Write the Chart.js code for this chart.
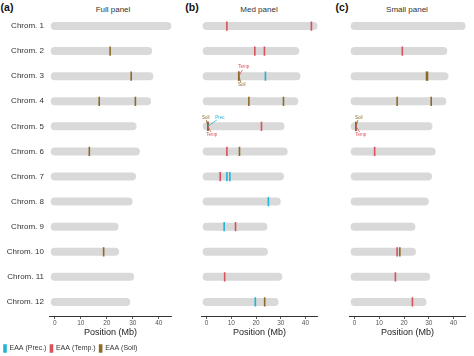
<!DOCTYPE html>
<html><head><meta charset="utf-8">
<script src="https://cdn.jsdelivr.net/npm/chart.js@4.4.1/dist/chart.umd.min.js"></script>
<style>
html,body{margin:0;padding:0;background:#fff;width:474px;height:356px;overflow:hidden;font-family:"Liberation Sans",Arial,sans-serif;}
canvas{position:absolute;top:0;}
.lab{position:absolute;transform:translate(-50%,-50%);white-space:nowrap;line-height:1;}
.tag{font-weight:bold;font-size:10.5px;color:#111;}
.ttl{font-size:8px;color:#333;}
</style></head><body>
<div class="lab tag" style="left:7px;top:7px">(a)</div>
<div class="lab ttl" style="left:113px;top:10px">Full panel</div>
<div class="lab tag" style="left:192px;top:7px">(b)</div>
<div class="lab ttl" style="left:259px;top:10px">Med panel</div>
<div class="lab tag" style="left:342px;top:7px">(c)</div>
<div class="lab ttl" style="left:407px;top:10px">Small panel</div>
<canvas id="cA" width="178" height="362" style="left:0px"></canvas>
<canvas id="cB" width="129" height="362" style="left:195px"></canvas>
<canvas id="cC" width="129" height="362" style="left:343px"></canvas>
<script>
// ---------- data ----------
const chromosomes = ['Chrom. 1','Chrom. 2','Chrom. 3','Chrom. 4','Chrom. 5','Chrom. 6','Chrom. 7','Chrom. 8','Chrom. 9','Chrom. 10','Chrom. 11','Chrom. 12'];
const chromLengthsMb = [43.3, 35.9, 36.4, 35.5, 29.9, 31.2, 29.7, 28.4, 23.0, 23.2, 29.0, 27.5];
const xTickValues = [0, 10, 20, 30, 40];
const eaaTypes = ['prec', 'temp', 'soil'];
const eaaLabels = ['EAA (Prec.)', 'EAA (Temp.)', 'EAA (Soil)'];
const siteLabelNames = {prec: 'Prec', temp: 'Temp', soil: 'Soil'};

// EAA marks: [chromosome number, position (Mb)]
const fullPrec = [];
const fullTemp = [];
const fullSoil = [[2,21.3],[3,29.4],[4,17.1],[4,31.0],[6,13.3],[10,18.8]];
const medPrec = [[3,23.8],[5,0.5],[7,8.2],[7,9.4],[8,25.0],[9,7.1],[12,19.7]];
const medTemp = [[1,8.2],[1,42.4],[2,19.5],[2,23.4],[3,13.0],[5,0.5],[5,22.2],[6,8.2],[7,5.5],[9,11.7],[11,7.3]];
const medSoil = [[3,13.0],[4,17.1],[4,31.1],[5,0.5],[6,13.3],[12,23.5]];
const smallPrec = [];
const smallTemp = [[2,19.3],[5,0.5],[6,8.1],[10,17.2],[11,16.5],[12,23.4]];
const smallSoil = [[3,29.1],[3,29.5],[4,17.2],[4,31.0],[5,0.5],[10,18.3]];

// labelled sites: [chromosome number, position (Mb), EAA types]
const medLabelledSites = [[3,13.0,['temp','soil']],[5,0.5,['soil','prec','temp']]];
const smallLabelledSites = [[5,0.5,['soil','temp']]];

// ---------- style ----------
const C = {prec: '#22b4d8', temp: '#d9515c', soil: '#8c6b2a', bar: '#d9d9d9', axis: '#333333'};
const FONT = '"Liberation Sans", Arial, sans-serif';
Chart.defaults.font.family = FONT;
const medLabelOffsets = [{temp:[5,-9], soil:[3,9]}, {soil:[-2,-9], prec:[12,-9], temp:[4,8]}];
const smallLabelOffsets = [{soil:[3,-9], temp:[5,8]}];

const siteLabelPlugin = {
  id: 'siteLabels',
  afterDatasetsDraw(chart, args, o) {
    const sites = o.sites || [];
    const ctx = chart.ctx, xs = chart.scales.x, ys = chart.scales.y;
    sites.forEach((site, si) => {
      const [chrom, pos, types] = site;
      const px = xs.getPixelForValue(pos), py = ys.getPixelForValue(chrom);
      types.forEach(t => {
        const [dx, dy] = o.offsets[si][t];
        const s = dy < 0 ? -1 : 1;
        ctx.save();
        ctx.strokeStyle = C[t]; ctx.lineWidth = 0.8;
        ctx.beginPath(); ctx.moveTo(px, py); ctx.lineTo(px + dx * 0.75, py + dy - s * 2.6); ctx.stroke();
        ctx.fillStyle = C[t]; ctx.font = '4.5px ' + FONT;
        ctx.textAlign = 'center'; ctx.textBaseline = 'middle';
        ctx.fillText(siteLabelNames[t], px + dx, py + dy);
        ctx.restore();
      });
    });
  }
};

function toPoints(list) { return list.map(([c, p]) => ({x: p, y: c})); }
function barPoints() {
  const pts = [];
  chromLengthsMb.forEach((len, i) => { pts.push({x: 0, y: i + 1}, {x: len, y: i + 1}, {x: len, y: null}); });
  return pts;
}

function makePanel(id, marks, sites, offsets, showY, showLegend) {
  const datasets = [{
    type: 'line', label: 'chromosome', data: barPoints(), isLegend: false, order: 10,
    borderColor: C.bar, backgroundColor: C.bar, borderWidth: 8, borderCapStyle: 'round',
    pointRadius: 0, pointHoverRadius: 0, tension: 0, spanGaps: false, fill: false
  }];
  eaaTypes.forEach((t, i) => {
    datasets.push({
      label: eaaLabels[i], data: toPoints(marks[i]), isLegend: true, order: 3 - i,
      backgroundColor: C[t], borderColor: C[t], borderWidth: 0,
      pointStyle: 'line', pointRotation: 90, pointRadius: 4.6, pointHoverRadius: 4.6,
      pointBorderWidth: 1.6, pointBorderColor: C[t], pointBackgroundColor: C[t]
    });
  });
  new Chart(document.getElementById(id), {
    type: 'scatter',
    data: {datasets},
    options: {
      responsive: false, animation: false, events: [],
      layout: {padding: {top: 13.5, right: 1, left: 0, bottom: showLegend ? 0 : 21}},
      plugins: {
        legend: {
          display: showLegend, position: 'bottom', align: 'start',
          labels: {boxWidth: 2, boxHeight: 7, padding: 4, font: {size: 7}, color: '#333',
                   filter: (item, data) => data.datasets[item.datasetIndex].isLegend,
                   sort: (a, b) => a.datasetIndex - b.datasetIndex}
        },
        tooltip: {enabled: false},
        siteLabels: {sites: sites, offsets: offsets}
      },
      scales: {
        x: {
          type: 'linear', min: -2.2, max: 45,
          afterBuildTicks: s => { s.ticks = xTickValues.map(v => ({value: v})); },
          afterFit: s => { s.height = 25; },
          ticks: {font: {size: 6.5}, color: '#555', padding: 0, maxRotation: 0, autoSkip: false},
          grid: {display: true, drawOnChartArea: false, drawTicks: true, tickLength: 3, color: C.axis, lineWidth: 0.8},
          border: {display: true, color: C.axis, width: 1},
          title: {display: true, text: 'Position (Mb)', font: {size: 9}, color: '#222', padding: {top: 0, bottom: 3.2}}
        },
        y: {
          type: 'linear', reverse: true, min: 0.5, max: 12.56, display: showY,
          afterBuildTicks: s => { s.ticks = chromosomes.map((c, i) => ({value: i + 1})); },
          afterFit: s => { s.width = showY ? 49 : 0; },
          ticks: {font: {size: 8}, color: '#333', padding: 5, autoSkip: false,
                  callback: v => chromosomes[v - 1]},
          grid: {display: false, drawTicks: false},
          border: {display: false}
        }
      }
    },
    plugins: [siteLabelPlugin]
  });
}

makePanel('cA', [fullPrec, fullTemp, fullSoil], [], [], true, true);
makePanel('cB', [medPrec, medTemp, medSoil], medLabelledSites, medLabelOffsets, false, false);
makePanel('cC', [smallPrec, smallTemp, smallSoil], smallLabelledSites, smallLabelOffsets, false, false);
</script>
</body></html>
